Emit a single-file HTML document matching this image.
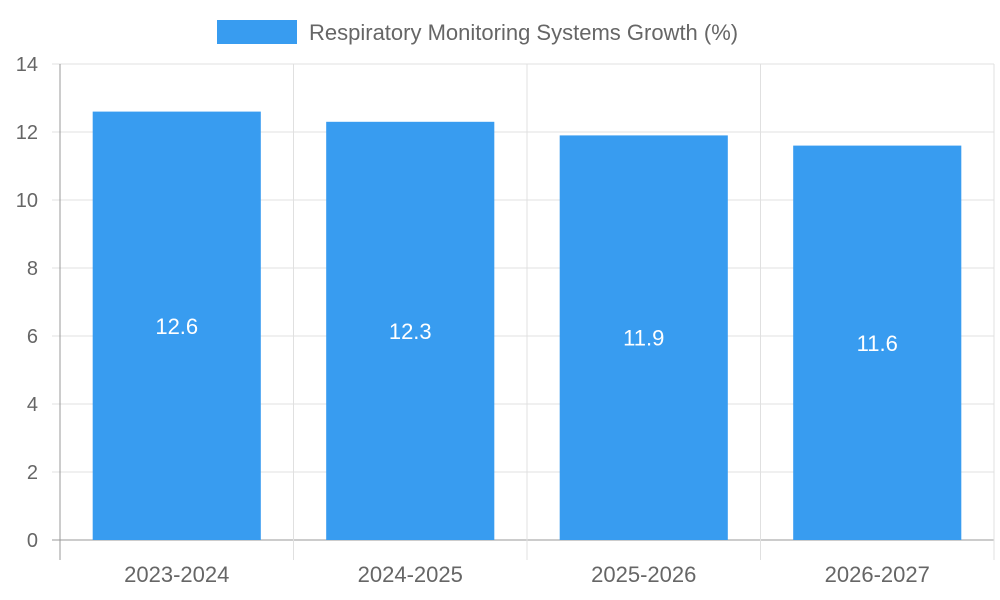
<!DOCTYPE html>
<html><head><meta charset="utf-8"><style>
body{margin:0;background:#fff;}
svg{display:block;font-family:"Liberation Sans",sans-serif;}
</style></head><body>
<svg id="chart" width="1000" height="600">
<g>
<rect x="217" y="20" width="80" height="24" fill="#389cf0"/>
<text x="309" y="40" font-size="22" fill="#666">Respiratory Monitoring Systems Growth (%)</text>
</g>
<g id="grid"></g><g id="bars"></g><g id="labels"></g>
</svg>
<script>
const categories=["2023-2024","2024-2025","2025-2026","2026-2027"];
const values=[12.6,12.3,11.9,11.6];
const yTicks=[0,2,4,6,8,10,12,14];
const X0=60,X1=994,Y0=540,Y1=64,YMAX=14;
const ns="http://www.w3.org/2000/svg";
const y=v=>Y0-(v/YMAX)*(Y0-Y1);
const bw=(X1-X0)/categories.length;
const xc=i=>X0+bw*(i+0.5);
function mk(tag,attrs,parent,txt){const e=document.createElementNS(ns,tag);for(const k in attrs)e.setAttribute(k,attrs[k]);if(txt!==undefined)e.textContent=txt;document.getElementById(parent).appendChild(e);return e;}
yTicks.forEach(t=>{
 const l=mk('line',{x1:t===0?52:52,x2:X1,y1:y(t),y2:y(t),stroke:t===0?'#999':'#e0e0e0','stroke-width':1},'grid');
 
 
 const tx=mk('text',{x:38,y:y(t)+7,'font-size':20,fill:'#666','text-anchor':'end'},'labels',t);
 
 
});
for(let i=0;i<=categories.length;i++){
 const xx=X0+bw*i;
 const l=mk('line',{x1:xx,x2:xx,y1:Y1,y2:560,stroke:i===0?'#999':'#e0e0e0','stroke-width':1},'grid');
 
 
}
categories.forEach((c,i)=>{
 const w=bw*0.72;
 const r=mk('rect',{x:xc(i)-w/2,y:y(values[i]),width:w,height:Y0-y(values[i]),fill:'#389cf0'},'bars');
 
 
 const v=mk('text',{x:xc(i),y:(y(values[i])+Y0)/2+8,'font-size':22,fill:'#fff','text-anchor':'middle'},'labels',values[i]);
 
 
 const t=mk('text',{x:xc(i),y:582,'font-size':22,fill:'#666','text-anchor':'middle'},'labels',c);
 
 
});
</script>
</body></html>
